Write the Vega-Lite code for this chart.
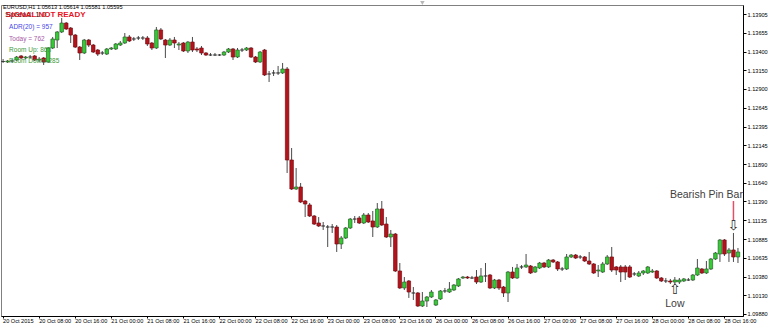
{
  "$schema": "https://vega.github.io/schema/vega-lite/v6.json",
  "width": 742,
  "height": 311,
  "autosize": {"type": "none"},
  "padding": {"left": 1, "top": 5, "right": 25, "bottom": 11},
  "background": "white",
  "config": {
    "view": {"stroke": "#808080", "strokeWidth": 1},
    "font": "Liberation Sans",
    "axis": {"labelFont": "Liberation Sans", "labelOverlap": false},
    "text": {"font": "Liberation Sans"}
  },
  "datasets": {
    "candles": [
      {"t":"20 Oct 00:00","o":1.13268,"h":1.13301,"l":1.13248,"c":1.13268},
      {"t":"20 Oct 01:00","o":1.13261,"h":1.13288,"l":1.13248,"c":1.13275},
      {"t":"20 Oct 02:00","o":1.13275,"h":1.13301,"l":1.13248,"c":1.13275},
      {"t":"20 Oct 03:00","o":1.13288,"h":1.13342,"l":1.13275,"c":1.13328},
      {"t":"20 Oct 04:00","o":1.13342,"h":1.13355,"l":1.13301,"c":1.13315},
      {"t":"20 Oct 05:00","o":1.13315,"h":1.13342,"l":1.13301,"c":1.13328},
      {"t":"20 Oct 06:00","o":1.13328,"h":1.13355,"l":1.13315,"c":1.13328},
      {"t":"20 Oct 07:00","o":1.13342,"h":1.13355,"l":1.13275,"c":1.13288},
      {"t":"20 Oct 08:00","o":1.13288,"h":1.13328,"l":1.13261,"c":1.13301},
      {"t":"20 Oct 09:00","o":1.13315,"h":1.13328,"l":1.13221,"c":1.13261},
      {"t":"20 Oct 10:00","o":1.13261,"h":1.13462,"l":1.13248,"c":1.13449},
      {"t":"20 Oct 11:00","o":1.13449,"h":1.13597,"l":1.13436,"c":1.13570},
      {"t":"20 Oct 12:00","o":1.13556,"h":1.13677,"l":1.13449,"c":1.13664},
      {"t":"20 Oct 13:00","o":1.13664,"h":1.13852,"l":1.13650,"c":1.13784},
      {"t":"20 Oct 14:00","o":1.13784,"h":1.13798,"l":1.13691,"c":1.13704},
      {"t":"20 Oct 15:00","o":1.13717,"h":1.13731,"l":1.13516,"c":1.13623},
      {"t":"20 Oct 16:00","o":1.13623,"h":1.13637,"l":1.13449,"c":1.13462},
      {"t":"20 Oct 17:00","o":1.13462,"h":1.13476,"l":1.13288,"c":1.13382},
      {"t":"20 Oct 18:00","o":1.13382,"h":1.13570,"l":1.13368,"c":1.13556},
      {"t":"20 Oct 19:00","o":1.13556,"h":1.13570,"l":1.13462,"c":1.13489},
      {"t":"20 Oct 20:00","o":1.13489,"h":1.13503,"l":1.13382,"c":1.13395},
      {"t":"20 Oct 21:00","o":1.13422,"h":1.13436,"l":1.13342,"c":1.13368},
      {"t":"20 Oct 22:00","o":1.13382,"h":1.13409,"l":1.13355,"c":1.13382},
      {"t":"20 Oct 23:00","o":1.13368,"h":1.13449,"l":1.13355,"c":1.13436},
      {"t":"21 Oct 00:00","o":1.13436,"h":1.13462,"l":1.13422,"c":1.13449},
      {"t":"21 Oct 01:00","o":1.13436,"h":1.13516,"l":1.13422,"c":1.13503},
      {"t":"21 Oct 02:00","o":1.13489,"h":1.13543,"l":1.13476,"c":1.13516},
      {"t":"21 Oct 03:00","o":1.13516,"h":1.13650,"l":1.13503,"c":1.13597},
      {"t":"21 Oct 04:00","o":1.13597,"h":1.13623,"l":1.13529,"c":1.13543},
      {"t":"21 Oct 05:00","o":1.13570,"h":1.13597,"l":1.13543,"c":1.13570},
      {"t":"21 Oct 06:00","o":1.13583,"h":1.13610,"l":1.13556,"c":1.13583},
      {"t":"21 Oct 07:00","o":1.13583,"h":1.13610,"l":1.13556,"c":1.13583},
      {"t":"21 Oct 08:00","o":1.13583,"h":1.13610,"l":1.13476,"c":1.13503},
      {"t":"21 Oct 09:00","o":1.13516,"h":1.13529,"l":1.13422,"c":1.13449},
      {"t":"21 Oct 10:00","o":1.13449,"h":1.13731,"l":1.13436,"c":1.13691},
      {"t":"21 Oct 11:00","o":1.13691,"h":1.13717,"l":1.13556,"c":1.13570},
      {"t":"21 Oct 12:00","o":1.13556,"h":1.13570,"l":1.13315,"c":1.13489},
      {"t":"21 Oct 13:00","o":1.13489,"h":1.13583,"l":1.13476,"c":1.13556},
      {"t":"21 Oct 14:00","o":1.13556,"h":1.13597,"l":1.13449,"c":1.13516},
      {"t":"21 Oct 15:00","o":1.13489,"h":1.13529,"l":1.13422,"c":1.13503},
      {"t":"21 Oct 16:00","o":1.13516,"h":1.13529,"l":1.13395,"c":1.13409},
      {"t":"21 Oct 17:00","o":1.13409,"h":1.13543,"l":1.13382,"c":1.13529},
      {"t":"21 Oct 18:00","o":1.13529,"h":1.13597,"l":1.13395,"c":1.13422},
      {"t":"21 Oct 19:00","o":1.13436,"h":1.13462,"l":1.13395,"c":1.13422},
      {"t":"21 Oct 20:00","o":1.13449,"h":1.13476,"l":1.13355,"c":1.13382},
      {"t":"21 Oct 21:00","o":1.13382,"h":1.13395,"l":1.13342,"c":1.13355},
      {"t":"21 Oct 22:00","o":1.13355,"h":1.13382,"l":1.13342,"c":1.13355},
      {"t":"21 Oct 23:00","o":1.13355,"h":1.13382,"l":1.13342,"c":1.13355},
      {"t":"22 Oct 00:00","o":1.13355,"h":1.13368,"l":1.13342,"c":1.13355},
      {"t":"22 Oct 01:00","o":1.13355,"h":1.13409,"l":1.13342,"c":1.13395},
      {"t":"22 Oct 02:00","o":1.13395,"h":1.13449,"l":1.13382,"c":1.13436},
      {"t":"22 Oct 03:00","o":1.13436,"h":1.13449,"l":1.13288,"c":1.13328},
      {"t":"22 Oct 04:00","o":1.13328,"h":1.13449,"l":1.13315,"c":1.13422},
      {"t":"22 Oct 05:00","o":1.13422,"h":1.13449,"l":1.13395,"c":1.13422},
      {"t":"22 Oct 06:00","o":1.13422,"h":1.13462,"l":1.13409,"c":1.13449},
      {"t":"22 Oct 07:00","o":1.13449,"h":1.13462,"l":1.13315,"c":1.13328},
      {"t":"22 Oct 08:00","o":1.13328,"h":1.13342,"l":1.13248,"c":1.13261},
      {"t":"22 Oct 09:00","o":1.13261,"h":1.13409,"l":1.13248,"c":1.13395},
      {"t":"22 Oct 10:00","o":1.13422,"h":1.13436,"l":1.13073,"c":1.13087},
      {"t":"22 Oct 11:00","o":1.13100,"h":1.13140,"l":1.12993,"c":1.13100},
      {"t":"22 Oct 12:00","o":1.13114,"h":1.13154,"l":1.13073,"c":1.13114},
      {"t":"22 Oct 13:00","o":1.13114,"h":1.13208,"l":1.13087,"c":1.13114},
      {"t":"22 Oct 14:00","o":1.13114,"h":1.13248,"l":1.13100,"c":1.13167},
      {"t":"22 Oct 15:00","o":1.13167,"h":1.13194,"l":1.11772,"c":1.11946},
      {"t":"22 Oct 16:00","o":1.11946,"h":1.12107,"l":1.11544,"c":1.11557},
      {"t":"22 Oct 17:00","o":1.11557,"h":1.11839,"l":1.11544,"c":1.11584},
      {"t":"22 Oct 18:00","o":1.11584,"h":1.11638,"l":1.11369,"c":1.11383},
      {"t":"22 Oct 19:00","o":1.11396,"h":1.11410,"l":1.11181,"c":1.11356},
      {"t":"22 Oct 20:00","o":1.11343,"h":1.11369,"l":1.11181,"c":1.11195},
      {"t":"22 Oct 21:00","o":1.11195,"h":1.11208,"l":1.11074,"c":1.11087},
      {"t":"22 Oct 22:00","o":1.11101,"h":1.11181,"l":1.11047,"c":1.11061},
      {"t":"22 Oct 23:00","o":1.11061,"h":1.11114,"l":1.11007,"c":1.11061},
      {"t":"23 Oct 00:00","o":1.11047,"h":1.11074,"l":1.10779,"c":1.11047},
      {"t":"23 Oct 01:00","o":1.11047,"h":1.11087,"l":1.10967,"c":1.11047},
      {"t":"23 Oct 02:00","o":1.11047,"h":1.11074,"l":1.10712,"c":1.10819},
      {"t":"23 Oct 03:00","o":1.10819,"h":1.10926,"l":1.10752,"c":1.10900},
      {"t":"23 Oct 04:00","o":1.10900,"h":1.11047,"l":1.10886,"c":1.11034},
      {"t":"23 Oct 05:00","o":1.11034,"h":1.11168,"l":1.11020,"c":1.11154},
      {"t":"23 Oct 06:00","o":1.11154,"h":1.11195,"l":1.11101,"c":1.11154},
      {"t":"23 Oct 07:00","o":1.11168,"h":1.11195,"l":1.11087,"c":1.11101},
      {"t":"23 Oct 08:00","o":1.11101,"h":1.11235,"l":1.11087,"c":1.11208},
      {"t":"23 Oct 09:00","o":1.11208,"h":1.11235,"l":1.11101,"c":1.11114},
      {"t":"23 Oct 10:00","o":1.11128,"h":1.11262,"l":1.10913,"c":1.11047},
      {"t":"23 Oct 11:00","o":1.11047,"h":1.11369,"l":1.11034,"c":1.11289},
      {"t":"23 Oct 12:00","o":1.11289,"h":1.11396,"l":1.11061,"c":1.11074},
      {"t":"23 Oct 13:00","o":1.11087,"h":1.11181,"l":1.10900,"c":1.10913},
      {"t":"23 Oct 14:00","o":1.10913,"h":1.11007,"l":1.10779,"c":1.10953},
      {"t":"23 Oct 15:00","o":1.10953,"h":1.10967,"l":1.10443,"c":1.10457},
      {"t":"23 Oct 16:00","o":1.10457,"h":1.10564,"l":1.10215,"c":1.10229},
      {"t":"23 Oct 17:00","o":1.10229,"h":1.10376,"l":1.10202,"c":1.10309},
      {"t":"23 Oct 18:00","o":1.10323,"h":1.10336,"l":1.10095,"c":1.10175},
      {"t":"23 Oct 19:00","o":1.10162,"h":1.10242,"l":1.10068,"c":1.10162},
      {"t":"23 Oct 20:00","o":1.10162,"h":1.10175,"l":1.09974,"c":1.09987},
      {"t":"23 Oct 21:00","o":1.09987,"h":1.10175,"l":1.09974,"c":1.10054},
      {"t":"23 Oct 22:00","o":1.10054,"h":1.10121,"l":1.09974,"c":1.10108},
      {"t":"23 Oct 23:00","o":1.10108,"h":1.10202,"l":1.10095,"c":1.10175},
      {"t":"26 Oct 00:00","o":1.10000,"h":1.10081,"l":1.09987,"c":1.10068},
      {"t":"26 Oct 01:00","o":1.10081,"h":1.10202,"l":1.10068,"c":1.10189},
      {"t":"26 Oct 02:00","o":1.10189,"h":1.10229,"l":1.10162,"c":1.10189},
      {"t":"26 Oct 03:00","o":1.10175,"h":1.10309,"l":1.10162,"c":1.10215},
      {"t":"26 Oct 04:00","o":1.10202,"h":1.10282,"l":1.10189,"c":1.10269},
      {"t":"26 Oct 05:00","o":1.10256,"h":1.10363,"l":1.10242,"c":1.10350},
      {"t":"26 Oct 06:00","o":1.10363,"h":1.10390,"l":1.10350,"c":1.10376},
      {"t":"26 Oct 07:00","o":1.10376,"h":1.10390,"l":1.10350,"c":1.10363},
      {"t":"26 Oct 08:00","o":1.10363,"h":1.10390,"l":1.10350,"c":1.10363},
      {"t":"26 Oct 09:00","o":1.10376,"h":1.10470,"l":1.10282,"c":1.10309},
      {"t":"26 Oct 10:00","o":1.10309,"h":1.10497,"l":1.10296,"c":1.10390},
      {"t":"26 Oct 11:00","o":1.10390,"h":1.10564,"l":1.10309,"c":1.10390},
      {"t":"26 Oct 12:00","o":1.10403,"h":1.10417,"l":1.10215,"c":1.10229},
      {"t":"26 Oct 13:00","o":1.10229,"h":1.10350,"l":1.10215,"c":1.10336},
      {"t":"26 Oct 14:00","o":1.10336,"h":1.10350,"l":1.10202,"c":1.10229},
      {"t":"26 Oct 15:00","o":1.10242,"h":1.10256,"l":1.10108,"c":1.10162},
      {"t":"26 Oct 16:00","o":1.10162,"h":1.10457,"l":1.10041,"c":1.10443},
      {"t":"26 Oct 17:00","o":1.10443,"h":1.10511,"l":1.10350,"c":1.10363},
      {"t":"26 Oct 18:00","o":1.10363,"h":1.10551,"l":1.10350,"c":1.10497},
      {"t":"26 Oct 19:00","o":1.10511,"h":1.10537,"l":1.10484,"c":1.10511},
      {"t":"26 Oct 20:00","o":1.10511,"h":1.10685,"l":1.10497,"c":1.10537},
      {"t":"26 Oct 21:00","o":1.10524,"h":1.10537,"l":1.10417,"c":1.10430},
      {"t":"26 Oct 22:00","o":1.10443,"h":1.10524,"l":1.10430,"c":1.10511},
      {"t":"26 Oct 23:00","o":1.10497,"h":1.10578,"l":1.10484,"c":1.10564},
      {"t":"27 Oct 00:00","o":1.10564,"h":1.10578,"l":1.10497,"c":1.10511},
      {"t":"27 Oct 01:00","o":1.10511,"h":1.10618,"l":1.10497,"c":1.10604},
      {"t":"27 Oct 02:00","o":1.10604,"h":1.10618,"l":1.10564,"c":1.10578},
      {"t":"27 Oct 03:00","o":1.10578,"h":1.10591,"l":1.10457,"c":1.10484},
      {"t":"27 Oct 04:00","o":1.10484,"h":1.10511,"l":1.10457,"c":1.10484},
      {"t":"27 Oct 05:00","o":1.10484,"h":1.10685,"l":1.10470,"c":1.10645},
      {"t":"27 Oct 06:00","o":1.10645,"h":1.10685,"l":1.10631,"c":1.10671},
      {"t":"27 Oct 07:00","o":1.10671,"h":1.10685,"l":1.10618,"c":1.10631},
      {"t":"27 Oct 08:00","o":1.10645,"h":1.10671,"l":1.10618,"c":1.10645},
      {"t":"27 Oct 09:00","o":1.10645,"h":1.10658,"l":1.10578,"c":1.10591},
      {"t":"27 Oct 10:00","o":1.10591,"h":1.10712,"l":1.10537,"c":1.10551},
      {"t":"27 Oct 11:00","o":1.10551,"h":1.10564,"l":1.10417,"c":1.10430},
      {"t":"27 Oct 12:00","o":1.10457,"h":1.10537,"l":1.10376,"c":1.10470},
      {"t":"27 Oct 13:00","o":1.10443,"h":1.10578,"l":1.10430,"c":1.10551},
      {"t":"27 Oct 14:00","o":1.10551,"h":1.10671,"l":1.10537,"c":1.10645},
      {"t":"27 Oct 15:00","o":1.10645,"h":1.10779,"l":1.10443,"c":1.10470},
      {"t":"27 Oct 16:00","o":1.10511,"h":1.10524,"l":1.10403,"c":1.10470},
      {"t":"27 Oct 17:00","o":1.10511,"h":1.10537,"l":1.10309,"c":1.10443},
      {"t":"27 Oct 18:00","o":1.10511,"h":1.10537,"l":1.10336,"c":1.10443},
      {"t":"27 Oct 19:00","o":1.10511,"h":1.10537,"l":1.10363,"c":1.10376},
      {"t":"27 Oct 20:00","o":1.10417,"h":1.10443,"l":1.10390,"c":1.10417},
      {"t":"27 Oct 21:00","o":1.10390,"h":1.10457,"l":1.10376,"c":1.10430},
      {"t":"27 Oct 22:00","o":1.10430,"h":1.10470,"l":1.10403,"c":1.10457},
      {"t":"27 Oct 23:00","o":1.10430,"h":1.10524,"l":1.10417,"c":1.10511},
      {"t":"28 Oct 00:00","o":1.10443,"h":1.10484,"l":1.10430,"c":1.10457},
      {"t":"28 Oct 01:00","o":1.10457,"h":1.10470,"l":1.10350,"c":1.10363},
      {"t":"28 Oct 02:00","o":1.10363,"h":1.10376,"l":1.10309,"c":1.10323},
      {"t":"28 Oct 03:00","o":1.10323,"h":1.10363,"l":1.10296,"c":1.10323},
      {"t":"28 Oct 04:00","o":1.10323,"h":1.10350,"l":1.10282,"c":1.10309},
      {"t":"28 Oct 05:00","o":1.10309,"h":1.10376,"l":1.10269,"c":1.10336},
      {"t":"28 Oct 06:00","o":1.10309,"h":1.10363,"l":1.10282,"c":1.10336},
      {"t":"28 Oct 07:00","o":1.10323,"h":1.10363,"l":1.10309,"c":1.10350},
      {"t":"28 Oct 08:00","o":1.10336,"h":1.10363,"l":1.10323,"c":1.10336},
      {"t":"28 Oct 09:00","o":1.10336,"h":1.10417,"l":1.10323,"c":1.10403},
      {"t":"28 Oct 10:00","o":1.10403,"h":1.10618,"l":1.10390,"c":1.10497},
      {"t":"28 Oct 11:00","o":1.10484,"h":1.10497,"l":1.10417,"c":1.10430},
      {"t":"28 Oct 12:00","o":1.10430,"h":1.10591,"l":1.10417,"c":1.10484},
      {"t":"28 Oct 13:00","o":1.10484,"h":1.10631,"l":1.10470,"c":1.10618},
      {"t":"28 Oct 14:00","o":1.10618,"h":1.10712,"l":1.10604,"c":1.10698},
      {"t":"28 Oct 15:00","o":1.10685,"h":1.10886,"l":1.10578,"c":1.10873},
      {"t":"28 Oct 16:00","o":1.10873,"h":1.10886,"l":1.10658,"c":1.10685},
      {"t":"28 Oct 17:00","o":1.10698,"h":1.10766,"l":1.10578,"c":1.10739},
      {"t":"28 Oct 18:00","o":1.10739,"h":1.10967,"l":1.10578,"c":1.10645},
      {"t":"28 Oct 19:00","o":1.10645,"h":1.10766,"l":1.10564,"c":1.10712}
    ]
  },
  "layer": [
    {
      "data": {"name": "candles"},
      "mark": {"type": "rule", "color": "#4a4a4a", "strokeWidth": 1},
      "encoding": {
        "x": {
          "field": "t", "type": "ordinal", "sort": null,
          "scale": {"type": "band", "paddingInner": 0.22, "paddingOuter": 0.4, "align": 0.09, "round": false},
          "axis": {
            "title": null,
            "values": ["20 Oct 00:00","20 Oct 08:00","20 Oct 16:00","21 Oct 00:00","21 Oct 08:00","21 Oct 16:00","22 Oct 00:00","22 Oct 08:00","22 Oct 16:00","23 Oct 00:00","23 Oct 08:00","23 Oct 16:00","26 Oct 00:00","26 Oct 08:00","26 Oct 16:00","27 Oct 00:00","27 Oct 08:00","27 Oct 16:00","28 Oct 00:00","28 Oct 08:00","28 Oct 16:00"],
            "labelExpr": "datum.value == '20 Oct 00:00' ? '20 Oct 2015' : datum.value",
            "labelAlign": "left", "labelAngle": 0, "labelFontSize": 5.6, "labelColor": "#000000",
            "labelPadding": 0, "tickSize": 2, "tickColor": "#000000", "domainColor": "#000000",
            "grid": false, "labelOverlap": false, "labelFlush": false, "labelBound": false, "bandPosition": 0.5
          }
        },
        "y": {
          "field": "l", "type": "quantitative",
          "scale": {"domain": [1.09853, 1.14026], "nice": false, "zero": false},
          "axis": {
            "orient": "right", "title": null, "tickCount": 40,
            "values": [1.13905,1.13655,1.134,1.1315,1.129,1.12645,1.12395,1.12145,1.1189,1.1164,1.1139,1.11135,1.10885,1.10635,1.1038,1.1013,1.0988],
            "format": ".5f", "labelFontSize": 5.6, "labelColor": "#000000", "labelPadding": 1,
            "tickSize": 3, "tickColor": "#000000", "domainColor": "#000000",
            "grid": false, "labelOverlap": false, "labelFlush": false, "labelBound": false
          }
        },
        "y2": {"field": "h"}
      }
    },
    {
      "data": {"name": "candles"},
      "mark": {"type": "bar", "strokeWidth": 0.7},
      "encoding": {
        "x": {"field": "t", "type": "ordinal", "sort": null},
        "y": {"field": "o", "type": "quantitative"},
        "y2": {"field": "c"},
        "fill": {
          "condition": [
            {"test": "datum.c > datum.o", "value": "#33cc33"},
            {"test": "datum.c == datum.o", "value": "#333333"}
          ],
          "value": "#b3141c"
        },
        "stroke": {
          "condition": [
            {"test": "datum.c > datum.o", "value": "#2f5f2f"},
            {"test": "datum.c == datum.o", "value": "#333333"}
          ],
          "value": "#7a0d12"
        }
      }
    },
    {
      "data": {"values": [{"t": "20 Oct 00:00", "p": 1.14003, "s": "EURUSD,H1  1.05613 1.05614 1.05581 1.05595"}]},
      "mark": {"type": "text", "align": "left", "baseline": "middle", "fontSize": 5.6, "color": "#000000"},
      "encoding": {"x": {"field": "t", "type": "ordinal", "sort": null}, "y": {"field": "p", "type": "quantitative"}, "text": {"field": "s"}}
    },
    {
      "data": {"values": [{"t": "20 Oct 00:00", "p": 1.13892, "s": "Spread: 1.0"}]},
      "mark": {"type": "text", "align": "left", "baseline": "middle", "fontSize": 8, "dx": 2, "color": "#202020"},
      "encoding": {"x": {"field": "t", "type": "ordinal", "sort": null}, "y": {"field": "p", "type": "quantitative"}, "text": {"field": "s"}}
    },
    {
      "data": {"values": [{"t": "20 Oct 00:00", "p": 1.13892, "s": "SIGNAL NOT READY"}]},
      "mark": {"type": "text", "align": "left", "baseline": "middle", "fontSize": 8, "dx": 3, "color": "#e8141e", "fontWeight": "bold"},
      "encoding": {"x": {"field": "t", "type": "ordinal", "sort": null}, "y": {"field": "p", "type": "quantitative"}, "text": {"field": "s"}}
    },
    {
      "data": {"values": [{"t": "20 Oct 01:00", "p": 1.13731, "s": "ADR(20) = 957"}]},
      "mark": {"type": "text", "align": "left", "baseline": "middle", "fontSize": 6.5, "dx": 1.5, "color": "#4646e6"},
      "encoding": {"x": {"field": "t", "type": "ordinal", "sort": null}, "y": {"field": "p", "type": "quantitative"}, "text": {"field": "s"}}
    },
    {
      "data": {"values": [{"t": "20 Oct 01:00", "p": 1.1357, "s": "Today = 762"}]},
      "mark": {"type": "text", "align": "left", "baseline": "middle", "fontSize": 6.5, "dx": 1.5, "color": "#a65aa6"},
      "encoding": {"x": {"field": "t", "type": "ordinal", "sort": null}, "y": {"field": "p", "type": "quantitative"}, "text": {"field": "s"}}
    },
    {
      "data": {"values": [{"t": "20 Oct 01:00", "p": 1.13422, "s": "Room Up: 863"}, {"t": "20 Oct 01:00", "p": 1.13275, "s": "Room Down: 285"}]},
      "mark": {"type": "text", "align": "left", "baseline": "middle", "fontSize": 6.5, "dx": 1.5, "color": "#3c9a3c"},
      "encoding": {"x": {"field": "t", "type": "ordinal", "sort": null}, "y": {"field": "p", "type": "quantitative"}, "text": {"field": "s"}}
    },
    {
      "data": {"values": [{"t": "28 Oct 12:00", "p": 1.11477, "s": "Bearish Pin Bar"}, {"t": "28 Oct 05:00", "p": 1.10008, "s": "Low"}]},
      "mark": {"type": "text", "align": "center", "baseline": "middle", "fontSize": 10.5, "color": "#404040"},
      "encoding": {"x": {"field": "t", "type": "ordinal", "sort": null}, "y": {"field": "p", "type": "quantitative"}, "text": {"field": "s"}}
    },
    {
      "data": {"values": [{"t": "28 Oct 18:00", "p": 1.11396, "p2": 1.11128}]},
      "mark": {"type": "rule", "color": "#e0506a", "strokeWidth": 1.5},
      "encoding": {"x": {"field": "t", "type": "ordinal", "sort": null}, "y": {"field": "p", "type": "quantitative"}, "y2": {"field": "p2"}}
    },
    {
      "data": {"values": [{"t": "28 Oct 18:00", "p": 1.11061, "s": "⇩"}, {"t": "28 Oct 05:00", "p": 1.10202, "s": "⇧"}]},
      "mark": {"type": "text", "align": "center", "baseline": "middle", "fontSize": 14, "font": "DejaVu Sans", "color": "#2a2a2a"},
      "encoding": {"x": {"field": "t", "type": "ordinal", "sort": null}, "y": {"field": "p", "type": "quantitative"}, "text": {"field": "s"}}
    },
    {
      "data": {"values": [{"t": "23 Oct 21:00", "p": 1.14053}]},
      "mark": {"type": "point", "shape": "triangle-down", "size": 20, "filled": true, "color": "#999999", "clip": false},
      "encoding": {"x": {"field": "t", "type": "ordinal", "sort": null}, "y": {"field": "p", "type": "quantitative"}}
    }
  ]
}
